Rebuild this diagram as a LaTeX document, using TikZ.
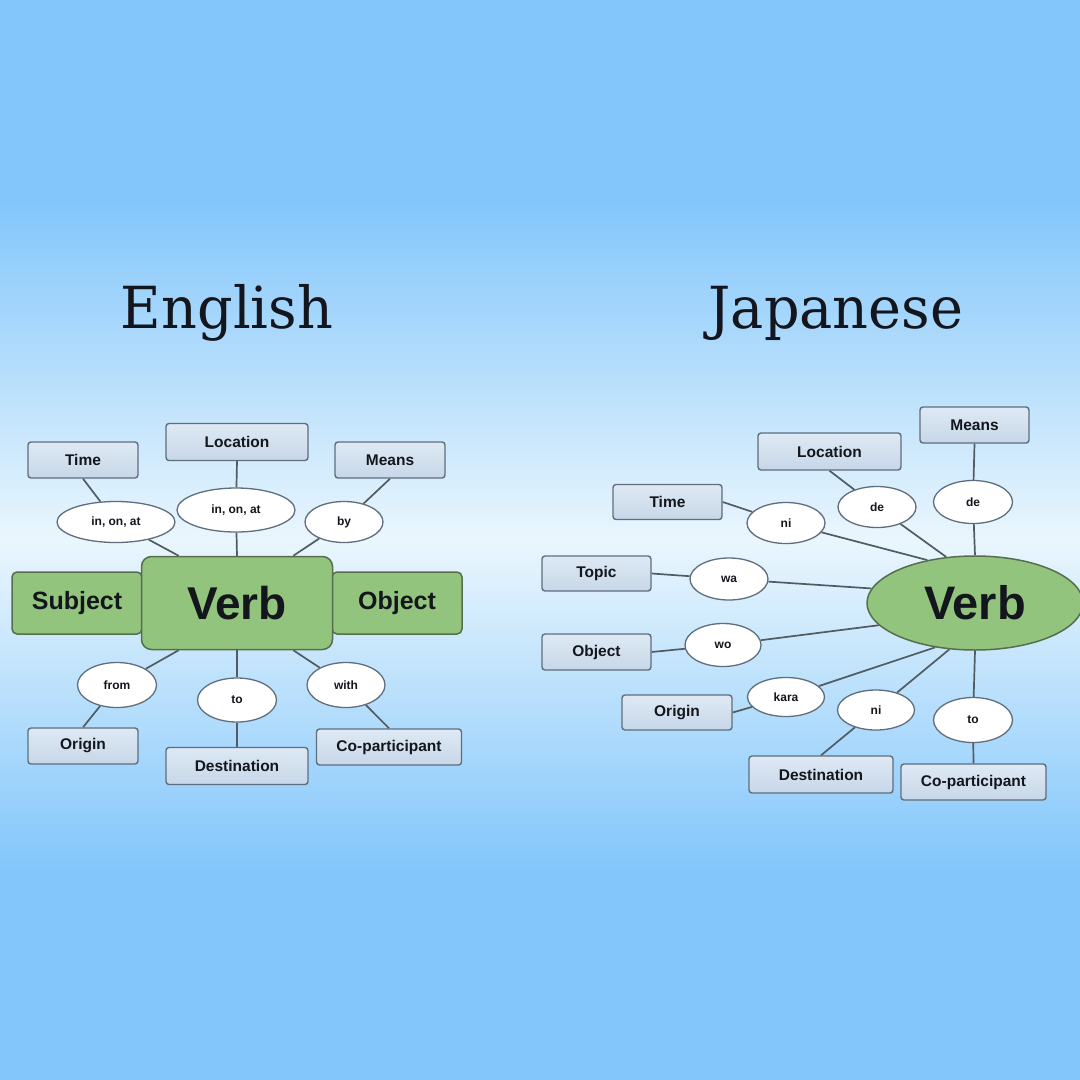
\documentclass[tikz,border=0pt]{standalone}
\usepackage{fontspec}
\setmainfont{DejaVu Serif}
\newfontfamily\labelfont{Liberation Sans}
\usetikzlibrary{calc}
\usetikzlibrary{shapes.geometric}

\definecolor{skyblue}{RGB}{130,198,251}
\definecolor{skylight}{RGB}{234,246,253}
\definecolor{boxtop}{RGB}{222,233,244}
\definecolor{boxbot}{RGB}{199,215,232}
\definecolor{boxline}{RGB}{95,110,125}
\definecolor{verbgreen}{RGB}{147,196,125}
\definecolor{verbline}{RGB}{85,110,78}
\definecolor{linkgray}{RGB}{80,92,98}
\definecolor{ink}{RGB}{20,22,30}

% 25bp = bottom edge, 75bp = top edge of the filled path
\pgfdeclareverticalshading{sky}{100bp}{color(0bp)=(skyblue); color(34.7bp)=(skyblue); color(50bp)=(skylight); color(65.7bp)=(skyblue); color(100bp)=(skyblue)}
\pgfdeclarelayer{bg}
\pgfdeclarelayer{edges}
\pgfsetlayers{bg,edges,main}

\tikzset{
  wordbox/.style={draw=boxline, line width=1.4pt, rounded corners=3pt, top color=boxtop, bottom color=boxbot,
    text=ink, inner sep=0pt, font=\labelfont\bfseries\fontsize{15.5}{16}\selectfont},
  greenbox/.style={draw=verbline, line width=1.5pt, fill=verbgreen, text=ink, inner sep=0pt,
    font=\labelfont\bfseries\fontsize{25}{26}\selectfont},
  particle/.style={ellipse, draw=boxline, line width=1.3pt, fill=white, text=ink, inner sep=0pt,
    font=\labelfont\bfseries\fontsize{12}{12}\selectfont},
  link/.style={draw=linkgray, line width=1.7pt},
  heading/.style={text=ink, font=\fontsize{58}{58}\selectfont, anchor=base, xscale=0.96}
}

\begin{document}
\begin{tikzpicture}[x=1pt,y=-1pt]
\useasboundingbox (0,0) rectangle (1080,1080);
\begin{pgfonlayer}{bg}
\fill[shading=sky] (0,0) rectangle (1080,1080);
\end{pgfonlayer}

\node[heading] (engtitle) at (227,328) {English};
\node[heading] (jptitle) at (836,328) {Japanese};

% English
\node[wordbox, minimum width=110, minimum height=36] (etime) at (83,460) {Time};
\node[wordbox, minimum width=142, minimum height=37] (eloc) at (237,442) {Location};
\node[wordbox, minimum width=110, minimum height=36] (emeans) at (390,460) {Means};
\node[wordbox, minimum width=110, minimum height=36] (eorigin) at (83,746) {Origin};
\node[wordbox, minimum width=142, minimum height=37] (edest) at (237,766) {Destination};
\node[wordbox, minimum width=145, minimum height=36] (ecopart) at (389,747) {Co-participant};
\node[greenbox, rounded corners=5pt, minimum width=130, minimum height=62] (esubj) at (77,603) {Subject};
\node[greenbox, rounded corners=5pt, minimum width=130, minimum height=62] (eobj) at (397,603) {Object};
\node[greenbox, rounded corners=10pt, minimum width=191, minimum height=93,
  font=\labelfont\bfseries\fontsize{46}{46}\selectfont] (everb) at (237,603) {Verb};
\node[particle, minimum width=118, minimum height=41] (eat1) at (116,522) {in, on, at};
\node[particle, minimum width=118, minimum height=44] (eat2) at (236,510) {in, on, at};
\node[particle, minimum width=78, minimum height=41] (eby) at (344,522) {by};
\node[particle, minimum width=79, minimum height=45] (efrom) at (117,685) {from};
\node[particle, minimum width=79, minimum height=44] (eto) at (237,700) {to};
\node[particle, minimum width=78, minimum height=45] (ewith) at (346,685) {with};

% Japanese
\node[wordbox, minimum width=109, minimum height=36] (jmeans) at (974.5,425) {Means};
\node[wordbox, minimum width=143, minimum height=37] (jloc) at (829.5,451.5) {Location};
\node[wordbox, minimum width=109, minimum height=35] (jtime) at (667.5,502) {Time};
\node[wordbox, minimum width=109, minimum height=35] (jtopic) at (596.5,573.5) {Topic};
\node[wordbox, minimum width=109, minimum height=36] (jobj) at (596.5,652) {Object};
\node[wordbox, minimum width=110, minimum height=35] (jorigin) at (677,712.5) {Origin};
\node[wordbox, minimum width=144, minimum height=37] (jdest) at (821,774.5) {Destination};
\node[wordbox, minimum width=145, minimum height=36] (jcopart) at (973.5,782) {Co-participant};
\node[greenbox, ellipse, minimum width=216, minimum height=94,
  font=\labelfont\bfseries\fontsize{47}{47}\selectfont] (jverb) at (975,603) {Verb};
\node[particle, minimum width=78, minimum height=41] (jni1) at (786,523) {ni};
\node[particle, minimum width=78, minimum height=41] (jde1) at (877,507) {de};
\node[particle, minimum width=79, minimum height=43] (jde2) at (973,502) {de};
\node[particle, minimum width=78, minimum height=42] (jwa) at (729,579) {wa};
\node[particle, minimum width=76, minimum height=43] (jwo) at (723,645) {wo};
\node[particle, minimum width=77, minimum height=39] (jkara) at (786,697) {kara};
\node[particle, minimum width=77, minimum height=40] (jni2) at (876,710) {ni};
\node[particle, minimum width=79, minimum height=45] (jto) at (973,720) {to};

\begin{pgfonlayer}{edges}
\draw[link] (etime.south) -- (eat1) -- (everb.141);
\draw[link] (eloc.south) -- (eat2) -- (everb.north);
\draw[link] (emeans.south) -- (eby) -- (everb.40);
\draw[link] (everb.219) -- (efrom) -- (eorigin.north);
\draw[link] (everb.south) -- (eto) -- (edest.north);
\draw[link] (everb.320) -- (ewith) -- (ecopart.north);

\draw[link] (jtime.east) -- (jni1) -- (jverb.138);
\draw[link] (jloc.south) -- (jde1) -- (jverb.122);
\draw[link] (jmeans.south) -- (jde2) -- (jverb.north);
\draw[link] (jtopic.east) -- (jwa) -- (jverb.172);
\draw[link] (jobj.east) -- (jwo) -- (jverb.193);
\draw[link] (jorigin.east) -- (jkara) -- (jverb.228);
\draw[link] (jdest.north) -- (jni2) -- (jverb.241);
\draw[link] (jverb.south) -- (jto) -- (jcopart.north);
\end{pgfonlayer}
\end{tikzpicture}
\end{document}
